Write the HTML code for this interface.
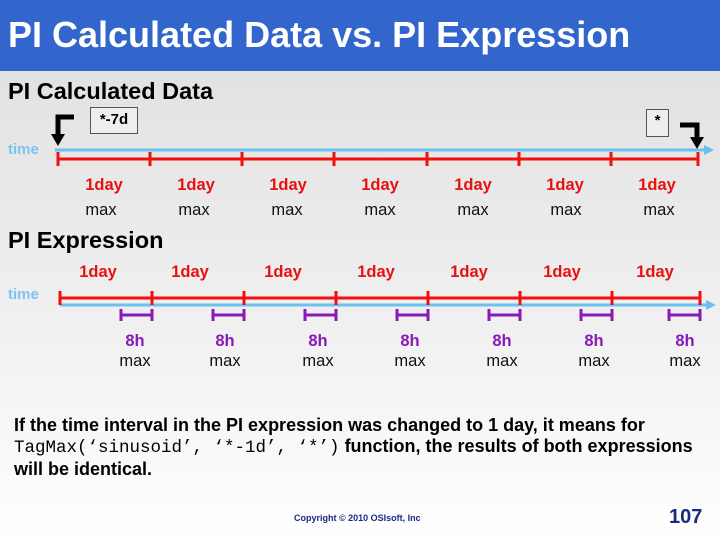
<!DOCTYPE html>
<html><head><meta charset="utf-8"><style>
body{margin:0;width:720px;height:540px;overflow:hidden;font-family:"Liberation Sans",Arial,sans-serif;background:linear-gradient(#dedede 0%,#f0f0f0 60%,#ffffff 100%);position:relative}
.t{position:absolute;white-space:nowrap}
</style></head><body>
<div style="position:absolute;left:0;top:0;width:720px;height:71px;background:#3366cc"></div>
<div class="t" style="left:8px;top:14px;font-size:36px;font-weight:bold;color:#fff">PI Calculated Data vs. PI Expression</div>
<div class="t" style="left:8px;top:78px;font-size:23.5px;font-weight:bold">PI Calculated Data</div>
<div class="t" style="left:8px;top:227px;font-size:23.5px;font-weight:bold">PI Expression</div>
<div class="t" style="left:8px;top:141px;font-size:15px;font-weight:bold;color:#7cc4f0">time</div>
<div class="t" style="left:8px;top:286px;font-size:15px;font-weight:bold;color:#7cc4f0">time</div>
<div class="t" style="left:90px;top:107px;width:46px;height:25px;border:1px solid #555;background:#eee;font-size:15px;font-weight:bold;text-align:center;line-height:23px">*-7d</div>
<div class="t" style="left:646px;top:109px;width:21px;height:26px;border:1px solid #555;background:#eee;font-size:15px;font-weight:bold;text-align:center;line-height:22px">*</div>
<svg width="720" height="540" style="position:absolute;left:0;top:0">
<g stroke="#000" stroke-width="5" fill="none"><polyline points="74,117 58,117 58,136"/><polyline points="680,125 697,125 697,139"/></g>
<polygon points="51,134 65,134 58,146" fill="#000"/><polygon points="690,137 704,137 697,149" fill="#000"/>
<line x1="55" y1="150" x2="706" y2="150" stroke="#6cc0f0" stroke-width="3"/>
<polygon points="704,145 714,150 704,155" fill="#6cc0f0"/>
<g stroke="#f01010" stroke-width="3"><line x1="58" y1="159" x2="698" y2="159"/>
<line x1="58" y1="152" x2="58" y2="166"/><line x1="150" y1="152" x2="150" y2="166"/><line x1="242" y1="152" x2="242" y2="166"/><line x1="334" y1="152" x2="334" y2="166"/><line x1="427" y1="152" x2="427" y2="166"/><line x1="519" y1="152" x2="519" y2="166"/><line x1="611" y1="152" x2="611" y2="166"/><line x1="698" y1="152" x2="698" y2="166"/></g>
<line x1="60" y1="305" x2="708" y2="305" stroke="#6cc0f0" stroke-width="3"/>
<polygon points="706,300 716,305 706,310" fill="#6cc0f0"/>
<g stroke="#f01010" stroke-width="3"><line x1="60" y1="298" x2="700" y2="298"/>
<line x1="60" y1="291" x2="60" y2="305"/><line x1="152" y1="291" x2="152" y2="305"/><line x1="244" y1="291" x2="244" y2="305"/><line x1="336" y1="291" x2="336" y2="305"/><line x1="428" y1="291" x2="428" y2="305"/><line x1="520" y1="291" x2="520" y2="305"/><line x1="612" y1="291" x2="612" y2="305"/><line x1="700" y1="291" x2="700" y2="305"/></g>
<g stroke="#8a1ab8" stroke-width="3">
<path d="M121 309V321M121 315H152M152 309V321"/><path d="M213 309V321M213 315H244M244 309V321"/><path d="M305 309V321M305 315H336M336 309V321"/><path d="M397 309V321M397 315H428M428 309V321"/><path d="M489 309V321M489 315H520M520 309V321"/><path d="M581 309V321M581 315H612M612 309V321"/><path d="M669 309V321M669 315H700M700 309V321"/></g>
<g font-family="Liberation Sans,Arial,sans-serif" font-size="16.5" text-anchor="middle">
<g fill="#e81010" font-weight="bold"><text x="104" y="190">1day</text><text x="196" y="190">1day</text><text x="288" y="190">1day</text><text x="380" y="190">1day</text><text x="473" y="190">1day</text><text x="565" y="190">1day</text><text x="657" y="190">1day</text>
<text x="98" y="277">1day</text><text x="190" y="277">1day</text><text x="283" y="277">1day</text><text x="376" y="277">1day</text><text x="469" y="277">1day</text><text x="562" y="277">1day</text><text x="655" y="277">1day</text></g>
<g fill="#111"><text x="101" y="215">max</text><text x="194" y="215">max</text><text x="287" y="215">max</text><text x="380" y="215">max</text><text x="473" y="215">max</text><text x="566" y="215">max</text><text x="659" y="215">max</text>
<text x="135" y="366">max</text><text x="225" y="366">max</text><text x="318" y="366">max</text><text x="410" y="366">max</text><text x="502" y="366">max</text><text x="594" y="366">max</text><text x="685" y="366">max</text></g>
<g fill="#8a1ab8" font-weight="bold"><text x="135" y="346">8h</text><text x="225" y="346">8h</text><text x="318" y="346">8h</text><text x="410" y="346">8h</text><text x="502" y="346">8h</text><text x="594" y="346">8h</text><text x="685" y="346">8h</text></g>
</g></svg>
<div class="t" style="left:14px;top:415px;font-size:18px;font-weight:bold;line-height:21px;white-space:nowrap">If the time interval in the PI expression was changed to 1 day, it means for<br><span style="font-family:'Liberation Mono',monospace;font-weight:normal;font-size:17.5px">TagMax(‘sinusoid’, ‘*-1d’, ‘*’)</span> function, the results of both expressions<br>will be identical.</div>
<div class="t" style="left:294px;top:513px;font-size:9px;font-weight:bold;color:#1a2a80">Copyright © 2010 OSIsoft, Inc</div>
<div class="t" style="left:669px;top:506px;font-size:20px;font-weight:bold;color:#1a2a80">107</div>
</body></html>
